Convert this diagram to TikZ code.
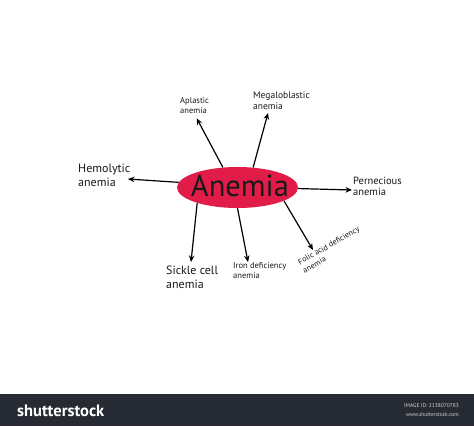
\documentclass[tikz,border=0pt]{standalone}
\usepackage{fontspec}
\setmainfont{PT Sans}
\usetikzlibrary{shapes.geometric,arrows.meta}
\definecolor{anred}{RGB}{226,28,72}
\definecolor{barcol}{RGB}{38,42,51}
\definecolor{txt}{RGB}{25,25,25}
\begin{document}
\begin{tikzpicture}[x=1pt,y=-1pt,
  arr/.style={-{Stealth[length=6.5pt,width=5.5pt]}, line width=1.2pt, black},
  lbl/.style={anchor=north west, inner sep=0pt, align=left, text=txt},
  ]
\useasboundingbox (0,0) rectangle (474,426);
\fill[white] (0,0) rectangle (474,426);
% central ellipse
\node[ellipse, fill=anred, minimum width=121pt, minimum height=41pt, inner sep=0pt] (an) at (237.5,187.5) {};
\node[inner sep=0pt, text=txt, font=\fontsize{30.5}{31}\selectfont] (antext) at (240,186) {Anemia};
% labels
\node[lbl, font=\fontsize{8.5}{10}\selectfont] (apl) at (180,97) {Aplastic\\anemia};
\node[lbl, font=\fontsize{9.5}{10.5}\selectfont] (meg) at (253,92) {Megaloblastic\\anemia};
\node[lbl, font=\fontsize{12}{13.5}\selectfont] (hem) at (78,164) {Hemolytic\\anemia};
\node[lbl, font=\fontsize{10.5}{11}\selectfont] (per) at (353,177) {Pernecious\\anemia};
\node[lbl, font=\fontsize{12}{13.5}\selectfont] (sic) at (166,266) {Sickle cell\\anemia};
\node[lbl, font=\fontsize{8.5}{10}\selectfont] (iron) at (233,262) {Iron deficiency\\anemia};
\node[lbl, rotate=29.5, font=\fontsize{8}{9.5}\selectfont] (fol) at (297,260) {Folic acid deficiency\\anemia};
% arrow tips
\coordinate (tA) at (196.7,118.3);
\coordinate (tM) at (268,113);
\coordinate (tH) at (128,179);
\coordinate (tP) at (352,190);
\coordinate (tS) at (191,262);
\coordinate (tI) at (248,262);
\coordinate (tF) at (313,250);
\draw[arr] (an.126) -- (tA);
\draw[arr] (an.52) -- (tM);
\draw[arr] (an.175.6) -- (tH);
\draw[arr] (an.-1) -- (tP);
\draw[arr] (an.-159.4) -- (tS);
\draw[arr] (an.-90) -- (tI);
\draw[arr] (an.-16.5) -- (tF);
% bottom bar
\fill[barcol] (0,394) rectangle (474,426);
\node[text=white, font=\fontsize{16.5}{17}\selectfont\bfseries, anchor=west, inner sep=0pt] (logo) at (17,410.5) {shutterstock};
\node[text=white!80!barcol, font=\fontsize{5.5}{6}\selectfont, anchor=east, inner sep=0pt] (imgid) at (459,406) {IMAGE ID: 2138070783};
\node[text=white!80!barcol, font=\fontsize{5.5}{6}\selectfont, anchor=east, inner sep=0pt] (www) at (459,415) {www.shutterstock.com};
\end{tikzpicture}
\end{document}
